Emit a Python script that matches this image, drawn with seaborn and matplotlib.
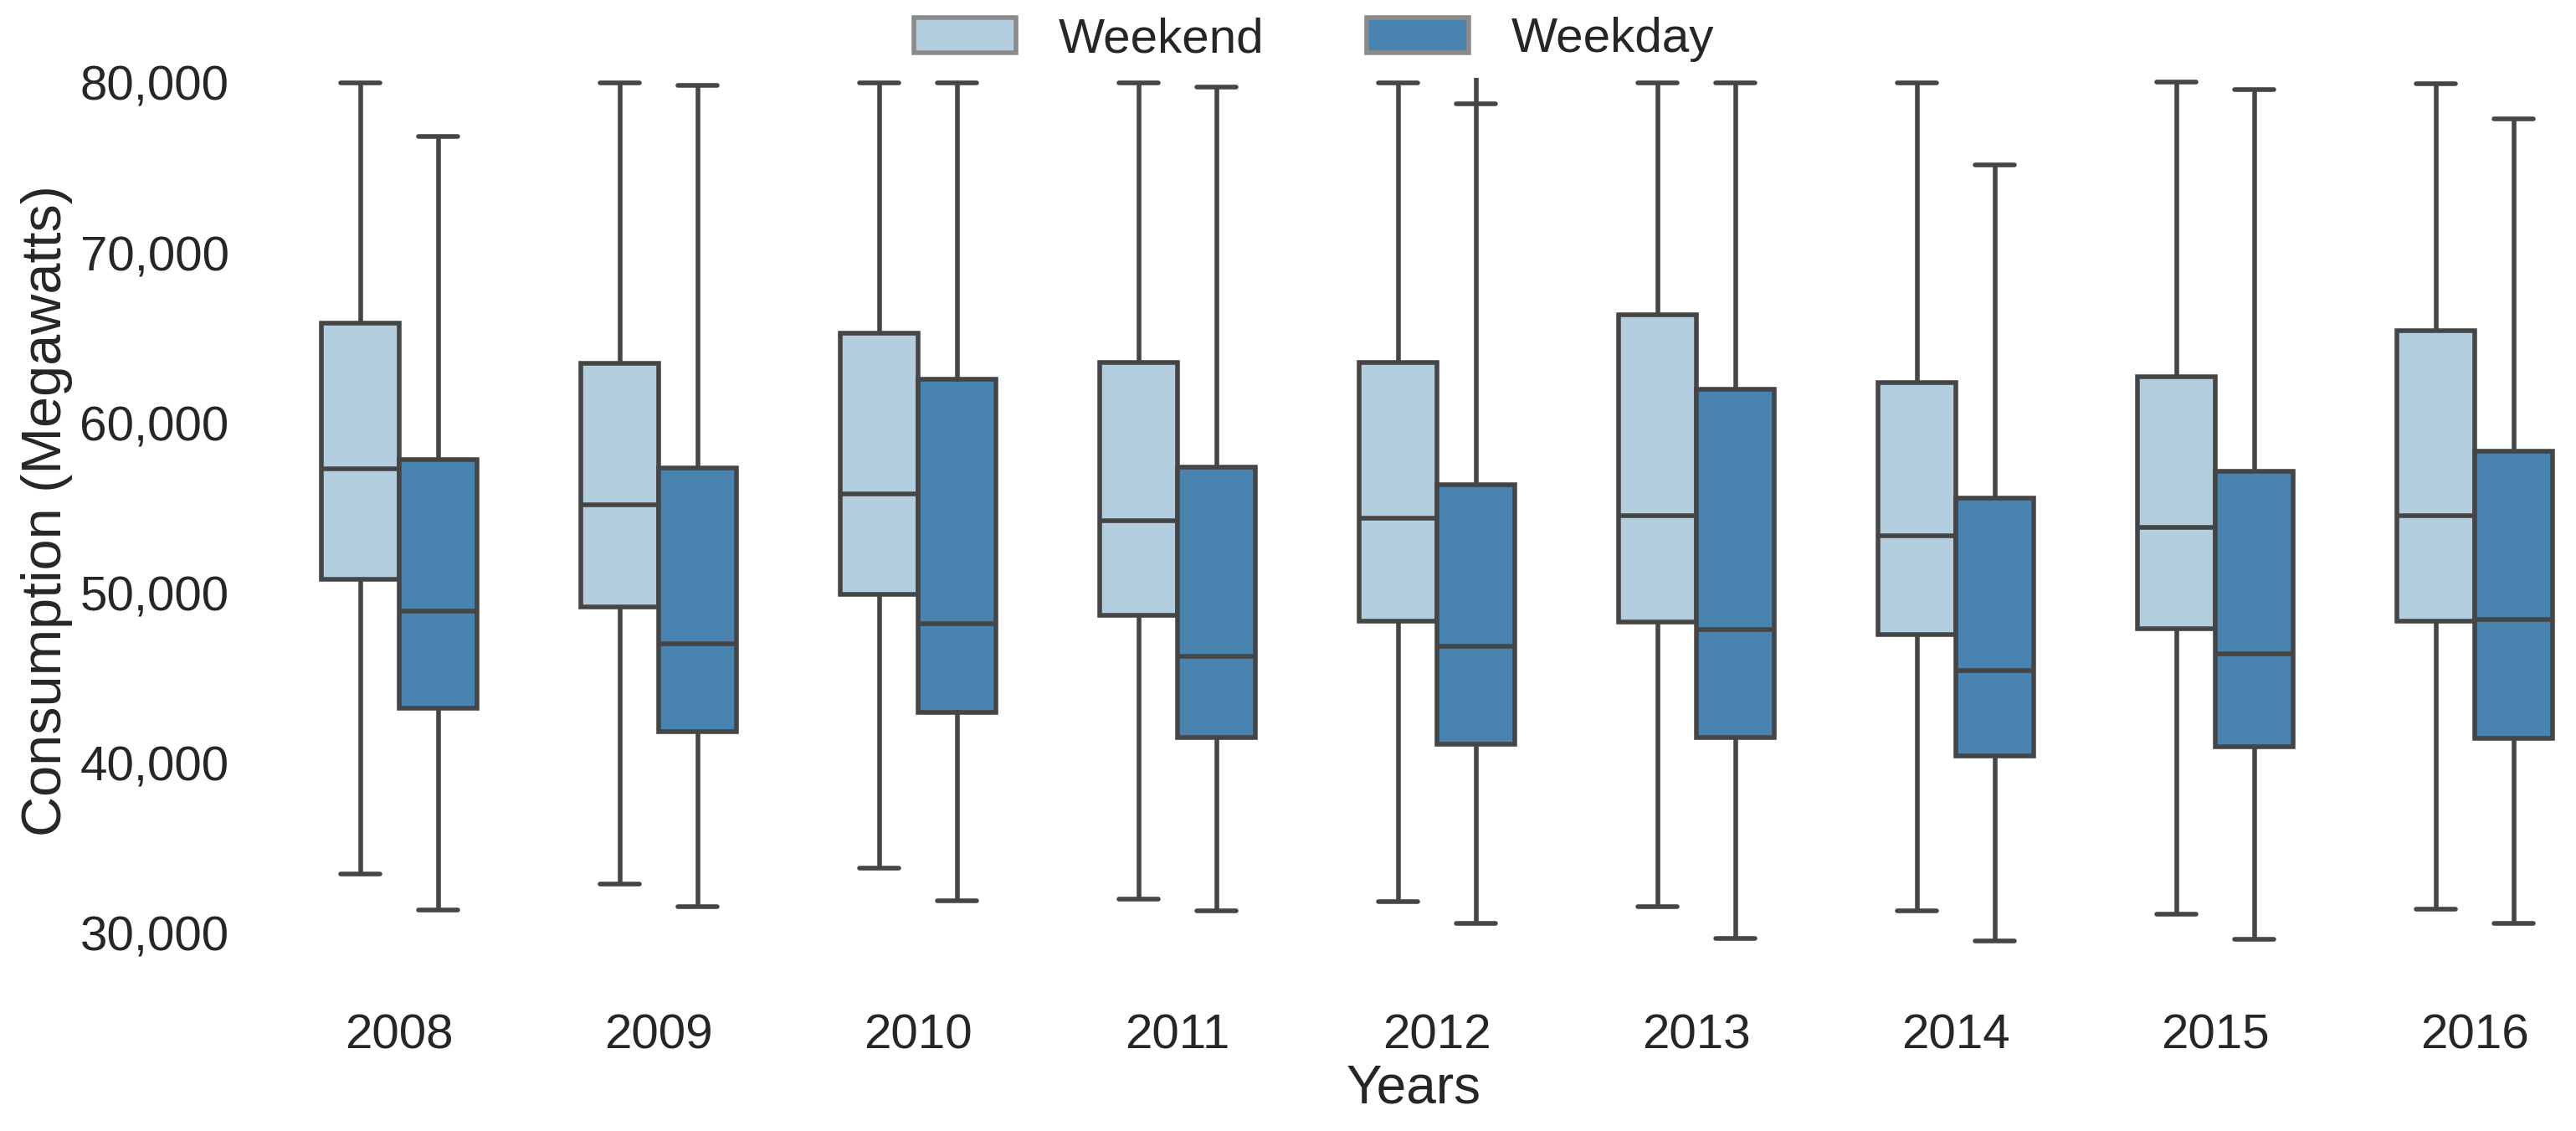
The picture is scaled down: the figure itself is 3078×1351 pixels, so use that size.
"""Box plots of electricity consumption per year, weekend vs weekday."""
import matplotlib
matplotlib.use('Agg')
import matplotlib.pyplot as plt
import matplotlib.ticker as mticker
import pandas as pd
import seaborn as sns

YEARS = ['2008', '2009', '2010', '2011', '2012', '2013', '2014', '2015', '2016']
DAYS = ['Weekend', 'Weekday']

# five-number summaries (Megawatts)
WEEKEND_LO = [33470, 32900, 33825, 32020, 31870, 31580, 31320, 31140, 31430]
WEEKEND_Q1 = [50835, 49165, 49920, 48680, 48350, 48285, 47580, 47910, 48350]
WEEKEND_MED = [57300, 55180, 55840, 54240, 54415, 54570, 53385, 53870, 54570]
WEEKEND_Q3 = [65890, 63505, 65300, 63550, 63550, 66350, 62365, 62740, 65410]
WEEKEND_HI = [80000, 80000, 80000, 80000, 80000, 80000, 80000, 80040, 79935]

WEEKDAY_LO = [31385, 31580, 31910, 31320, 30590, 29700, 29560, 29670, 30590]
WEEKDAY_Q1 = [43250, 41870, 42970, 41495, 41140, 41495, 40440, 40990, 41470]
WEEKDAY_MED = [48945, 47030, 48200, 46265, 46860, 47870, 45450, 46440, 48460]
WEEKDAY_Q3 = [57875, 57370, 62585, 57415, 56385, 62000, 55575, 57150, 58360]
WEEKDAY_HI = [76870, 79850, 80000, 79760, 78770, 80000, 75160, 79600, 77900]

# outliers beyond 1.5 IQR
FLIER_YEARS = ['2012']
FLIER_DAYS = ['Weekday']
FLIER_VALUES = [79560]

LINE = '#454545'

sns.set_theme(style='white')
plt.rcParams['font.family'] = ['Liberation Sans', 'DejaVu Sans']


def build_frame() -> pd.DataFrame:
    """Long table whose quartiles / whiskers reproduce the summaries above."""
    rows = []
    groups = [
        ('Weekend', WEEKEND_LO, WEEKEND_Q1, WEEKEND_MED, WEEKEND_Q3, WEEKEND_HI),
        ('Weekday', WEEKDAY_LO, WEEKDAY_Q1, WEEKDAY_MED, WEEKDAY_Q3, WEEKDAY_HI),
    ]
    for day, lo, q1, med, q3, hi in groups:
        for i, year in enumerate(YEARS):
            vals = [lo[i], q1[i], q1[i], med[i], med[i], q3[i], q3[i], hi[i]]
            vals += [v for y, d, v in zip(FLIER_YEARS, FLIER_DAYS, FLIER_VALUES)
                     if y == year and d == day]
            rows += [(year, day, v) for v in vals]
    return pd.DataFrame(rows, columns=['year', 'day', 'consumption'])


df = build_frame()

fig = plt.figure(figsize=(15.39, 6.755), dpi=200)
ax = fig.add_axes([0.0975, 0.1266, 0.9025, 0.8438])

sns.boxplot(data=df, x='year', y='consumption', hue='day',
            order=YEARS, hue_order=DAYS, palette='Blues',
            width=0.6, gap=0, linewidth=2, linecolor=LINE,
            flierprops=dict(marker='|', markersize=11, markeredgewidth=2,
                            markeredgecolor=LINE),
            ax=ax)

ax.set_xlim(-0.571, 8.39)
ax.set_ylim(26800, 82900)
ax.yaxis.set_major_locator(mticker.MultipleLocator(10000))
ax.yaxis.set_major_formatter(mticker.StrMethodFormatter('{x:,.0f}'))
ax.tick_params(axis='both', labelsize=21, colors='.15')
ax.tick_params(axis='x', pad=5)
ax.set_xlabel('Years', fontsize=23, labelpad=2)
ax.set_ylabel('Consumption (Megawatts)', fontsize=24, labelpad=3)
sns.despine(ax=ax, left=True, bottom=True)

sns.move_legend(ax, 'center', bbox_to_anchor=(0.51, 0.965),
                bbox_transform=fig.transFigure, ncol=2, title=None,
                frameon=False, fontsize=21, handlelength=2.1,
                handleheight=0.74, handletextpad=0.86, columnspacing=2.1)
for handle in ax.get_legend().legend_handles:
    handle.set_edgecolor('#8a8a8a')

fig.savefig('out.png', dpi=200)
plt.close(fig)
